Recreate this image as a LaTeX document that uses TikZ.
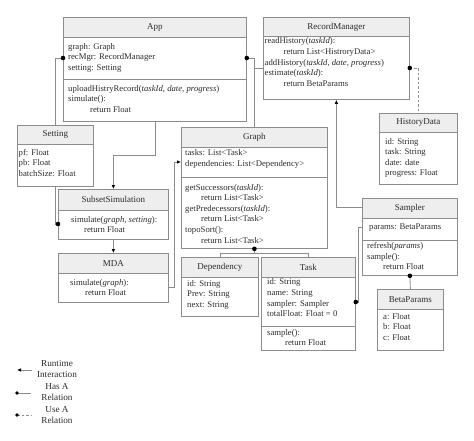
\documentclass[tikz,border=0pt]{standalone}
\usepackage{fontspec}
\setmainfont{Liberation Serif}
\usetikzlibrary{arrows.meta}
\definecolor{lc}{HTML}{8C8C8C}
\definecolor{hf}{HTML}{EEEEEE}
\definecolor{tc}{HTML}{2B2B2B}
\newcommand\Ls{\strut}
\newcommand\bodyfont{\fontsize{8.7}{10.6}\selectfont}
\newcommand\headfont{\fontsize{9}{10.6}\selectfont}
\newcommand\legfont{\fontsize{9.2}{10.2}\selectfont}
\tikzset{
  box/.style={draw=lc, line width=0.8pt, inner sep=0pt, anchor=north west},
  head/.style={draw=lc, fill=hf, line width=0.8pt, inner sep=0pt, anchor=north west, font=\headfont, text=tc},
  txt/.style={anchor=north west, inner sep=0pt, align=left, font=\bodyfont, text=tc},
  legtxt/.style={anchor=center, inner sep=0pt, align=center, font=\legfont, text=tc},
  conn/.style={draw=lc, line width=0.8pt},
  rt/.style={conn, -{Latex[length=4pt,width=3.6pt,color=black]}},
  usea/.style={conn, dash pattern=on 2.5pt off 2pt},
  dotc/.style={fill=black},
}
\newcommand\umlbox[7]{%
  \node[box, minimum width=#4pt, minimum height=#5pt] (#1) at (#2,#3) {};
  \node[head, minimum width=#4pt, minimum height=#6pt] (#1-h) at (#2,#3) {#7};
}
\begin{document}
\begin{tikzpicture}[x=1pt,y=-1pt]
\useasboundingbox (0,0) rectangle (474,440);

% boxes
\umlbox{app}{63}{17}{183}{104}{20}{App}
\umlbox{rm}{263}{17}{146}{82}{19}{RecordManager}
\umlbox{set}{17}{125}{76}{61}{19}{Setting}
\umlbox{ss}{58}{189}{110}{50}{21}{SubsetSimulation}
\umlbox{mda}{58}{253}{110}{49}{20}{MDA}
\umlbox{graph}{181}{127}{146}{121}{20}{Graph}
\umlbox{hd}{379}{113}{78}{71}{19}{HistoryData}
\umlbox{smp}{362}{198}{95}{77}{20}{Sampler}
\umlbox{dep}{181}{257}{77}{59}{20}{Dependency}
\umlbox{task}{261}{257}{94}{93}{20}{Task}
\umlbox{bp}{377}{289}{66}{61}{20}{BetaParams}

% compartment dividers
\draw[conn] ([yshift=-62pt]app.north west) -- ([yshift=-62pt]app.north east);
\draw[conn] ([yshift=-50pt]graph.north west) -- ([yshift=-50pt]graph.north east);
\draw[conn] ([yshift=-42pt]smp.north west) -- ([yshift=-42pt]smp.north east);
\draw[conn] ([yshift=-69pt]task.north west) -- ([yshift=-69pt]task.north east);

% texts
\node[txt] (app-a) at (68,41.5) {\Ls graph: Graph\\\Ls recMgr: RecordManager\\\Ls setting: Setting};
\node[txt] (app-m) at (68,83.5) {\Ls uploadHistryRecord(\textit{taskId, date, progress})\\\Ls simulate():\\\Ls\hspace*{22pt}return Float};
\node[txt] (rm-m) at (264.5,36.3) {\Ls readHistory(\textit{taskId}):\\\Ls\hspace*{19pt}return List<HistroryData>\\\Ls addHistory(\textit{taskId, date, progress})\\\Ls estimate(\textit{taskId}):\\\Ls\hspace*{19pt}return BetaParams};
\node[txt] (set-a) at (18.5,147.5) {\Ls pf: Float\\\Ls pb: Float\\\Ls batchSize: Float};
\node[txt] (ss-m) at (71,214.5) {\Ls simulate(\textit{graph, setting}):\\\Ls\hspace*{13pt}return Float};
\node[txt] (mda-m) at (70,277.5) {\Ls simulate(\textit{graph}):\\\Ls\hspace*{15pt}return Float};
\node[txt] (graph-a) at (185,147.8) {\Ls tasks: List<Task>\\\Ls dependencies: List<Dependency>};
\node[txt] (graph-m) at (185,182.5) {\Ls getSuccessors(\textit{taskId}):\\\Ls\hspace*{16pt}return List<Task>\\\Ls getPredecessors(\textit{taskId}):\\\Ls\hspace*{16pt}return List<Task>\\\Ls topoSort():\\\Ls\hspace*{16pt}return List<Task>};
\node[txt] (hd-a) at (385,136.5) {\Ls id: String\\\Ls task: String\\\Ls date: date\\\Ls progress: Float};
\node[txt] (smp-a) at (369,221.5) {\Ls params: BetaParams};
\node[txt] (smp-m) at (367,240.8) {\Ls refresh(\textit{params})\\\Ls sample():\\\Ls\hspace*{16pt}return Float};
\node[txt] (dep-a) at (187,278.5) {\Ls id: String\\\Ls Prev: String\\\Ls next: String};
\node[txt] (task-a) at (267,277.2) {\Ls id: String\\\Ls name: String\\\Ls sampler: Sampler\\\Ls totalFloat: Float = 0};
\node[txt] (task-m) at (267,327.5) {\Ls sample():\\\Ls\hspace*{18pt}return Float};
\node[txt] (bp-a) at (383,311.5) {\Ls a: Float\\\Ls b: Float\\\Ls c: Float};

% connector anchor points
\path (app.north west) ++(0,41) coordinate (appL);
\path (app.north east) ++(0,41) coordinate (appR);
\path (rm.north west) ++(0,51) coordinate (rmL);
\path (rm.north east) ++(0,51) coordinate (rmR);
\path (ss.north west) ++(0,35) coordinate (ssL);
\path (mda.north west) ++(110,34) coordinate (mdaR);
\path (graph.north west) ++(0,35) coordinate (graphL);
\path (smp.north west) ++(0,9) coordinate (smpL1);
\path (smp.north west) ++(0,29) coordinate (smpL2);
\path (task.north east) ++(0,45) coordinate (taskR);

% connectors
\draw[conn] (appL) -| (set.north);
\draw[conn] (ssL) -| (set.south);
\draw[rt] (app.south) -- ++(0,34) -| (ss.north);
\draw[rt] (ss.south) -- (mda.north);
\draw[rt] (mdaR) -- ++(6,0) |- (graphL);
\draw[conn] (appR) -| (graph.north);
\draw[conn] (graph.north |- rmL) -- (rmL);
\draw[usea] (rmR) -| (hd.north);
\draw[rt] (smpL1) -| (rm.south);
\draw[conn] (taskR) -- ++(3,0) |- (smpL2);
\draw[conn] (smp.south) -- (bp.north);
\draw[conn] (graph.south) -- ++(0,5);
\draw[conn] (dep.north) -- ++(0,-4) -| (task.north);

% dots
\fill[dotc] (appL) circle[radius=2.3pt];
\fill[dotc] (appR) circle[radius=2.3pt];
\fill[dotc] (rmR) circle[radius=2.3pt];
\fill[dotc] (ssL) circle[radius=2.3pt];
\fill[dotc] (taskR) circle[radius=2.3pt];
\fill[dotc] (smp.south) circle[radius=2.3pt];
\fill[dotc] (graph.south) circle[radius=2.3pt];

% legend
\coordinate (lg1a) at (32,370);
\coordinate (lg1b) at (17,370);
\coordinate (lg2a) at (17,393);
\coordinate (lg2b) at (31,393);
\coordinate (lg3a) at (17,415);
\coordinate (lg3b) at (31,415);
\draw[rt] (lg1a) -- (lg1b);
\draw[conn] (lg2a) -- (lg2b);
\draw[usea] (lg3a) -- (lg3b);
\fill[dotc] (lg2a) circle[radius=1.8pt];
\fill[dotc] (lg3a) circle[radius=1.8pt];
\node[legtxt] (lg1) at (57,369) {Runtime\\Interaction};
\node[legtxt] (lg2) at (57,392) {Has A\\Relation};
\node[legtxt] (lg3) at (57,415) {Use A\\Relation};
\end{tikzpicture}
\end{document}
